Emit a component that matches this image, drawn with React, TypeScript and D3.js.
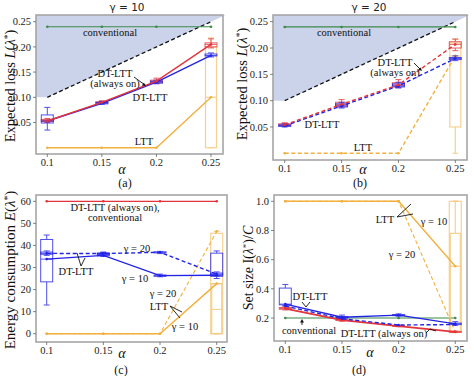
import React from "react";
import * as d3 from "d3";

// ---------- data ----------
const alphas = [0.1, 0.15, 0.2, 0.25];

// (a) expected loss, gamma = 10
const lossConvA = [0.24, 0.24, 0.24, 0.24];
const lossDtA = [0.053, 0.088, 0.13, 0.183];
const lossOnA = [0.053, 0.09, 0.132, 0.205];
const lossLttA = [0, 0, 0, 0.1];
// box stats: [lo, q1, med, q3, hi]
const boxDtA = [[0.035, 0.049, 0.053, 0.065, 0.08], [0.086, 0.087, 0.088, 0.09, 0.092], [0.127, 0.128, 0.13, 0.132, 0.134], [0.18, 0.182, 0.183, 0.186, 0.188]];
const boxOnA = [[0.05, 0.052, 0.054, 0.056, 0.058], [0.088, 0.089, 0.09, 0.091, 0.093], [0.127, 0.13, 0.132, 0.134, 0.138], [0.198, 0.2, 0.205, 0.208, 0.216]];
const boxLttA = [[0, 0, 0.1, 0.2, 0.218]];

// (b) expected loss, gamma = 20
const lossConvB = [0.24, 0.24, 0.24, 0.24];
const lossDtB = [0.052, 0.09, 0.128, 0.18];
const lossOnB = [0.054, 0.093, 0.13, 0.207];
const lossLttB = [0, 0, 0, 0.185];
const boxDtB = [[0.05, 0.051, 0.052, 0.054, 0.056], [0.086, 0.088, 0.09, 0.094, 0.097], [0.124, 0.126, 0.128, 0.132, 0.135], [0.176, 0.178, 0.18, 0.182, 0.185]];
const boxOnB = [[0.052, 0.053, 0.054, 0.056, 0.058], [0.088, 0.09, 0.093, 0.097, 0.102], [0.125, 0.128, 0.13, 0.134, 0.14], [0.195, 0.2, 0.207, 0.212, 0.217]];
const boxLttB = [[0, 0.05, 0.185, 0.21, 0.217]];

// (c) energy consumption
const energyOn = [60, 60, 60, 60];
const energyDt10 = [33.8, 35.5, 26.3, 26.5];
const energyDt20 = [36.4, 36.3, 36.9, 27];
const energyLtt10 = [0, 0, 0, 22.7];
const energyLtt20 = [0, 0, 0, 46.4];
const boxEnDt10 = [[13, 23.5, 33.8, 42.7, 44.7], [35, 35.3, 35.5, 36.3, 36.8], [25.8, 26, 26.3, 26.6, 27], [25, 26, 26.5, 36.5, 37.5]];
const boxEnDt20 = [[35.5, 36, 36.4, 37, 37.5], [35.5, 35.9, 36.3, 36.6, 37], [36.3, 36.6, 36.9, 37.1, 37.3], [26.2, 26.6, 27, 27.5, 28]];
const boxEnLtt10 = [[0, 0, 11, 22.7, 22.7]];
const boxEnLtt20 = [[0, 0, 22.7, 45.5, 46.4]];

// (d) set size
const sizeConv = [0.2, 0.2, 0.2, 0.2];
const sizeDt10 = [0.295, 0.205, 0.22, 0.16];
const sizeDt20 = [0.282, 0.195, 0.152, 0.155];
const sizeOn = [0.265, 0.185, 0.145, 0.105];
const sizeLtt10 = [1.0, 1.0, 1.0, 0.555];
const sizeLtt20 = [1.0, 1.0, 1.0, 0.105];
const boxSzDt10 = [[0.285, 0.29, 0.295, 0.405, 0.43], [0.195, 0.2, 0.205, 0.21, 0.22], [0.212, 0.216, 0.22, 0.224, 0.228], [0.15, 0.155, 0.16, 0.165, 0.175]];
const boxSzOn = [[0.255, 0.26, 0.265, 0.272, 0.28], [0.178, 0.182, 0.185, 0.19, 0.195], [0.14, 0.142, 0.145, 0.148, 0.152], [0.1, 0.102, 0.105, 0.108, 0.11]];
const boxSzLtt10 = [[0.105, 0.105, 0.555, 1.0, 1.0]];
const boxSzLtt20 = [[0.105, 0.105, 0.105, 0.78, 1.0]];

const xTicks = [0.1, 0.15, 0.2, 0.25];
const xTickLabels = ["0.1", "0.15", "0.2", "0.25"];
const lossTicks = [0.05, 0.1, 0.15, 0.2, 0.25];
const energyTicks = [0, 10, 20, 30, 40, 50, 60];
const sizeTicks = [0.2, 0.4, 0.6, 0.8, 1.0];

// ---------- style ----------
const BLUE = "#2323e6";
const RED = "#e3343c";
const ORANGE = "#f2b13f";
const ORANGE_BOX = "#f5c878";
const GREEN = "#3b8a48";
const SHADE = "#cad3e9";
const FRAME = "#a6a6a6";
const SERIF = "Liberation Serif";
const SANS = "DejaVu Sans";

type Sc = d3.ScaleLinear<number, number>;

function Line({ x, y, vals, color, dash, width = 1.4, marker = true }: { x: Sc; y: Sc; vals: number[]; color: string; dash?: string; width?: number; marker?: boolean }) {
  const gen = d3.line<number>().x((_, i) => x(alphas[i])).y((v) => y(v));
  return (
    <g>
      <path d={gen(vals) || ""} fill="none" stroke={color} strokeWidth={width} strokeDasharray={dash} />
      {marker && vals.map((v, i) => <circle key={i} cx={x(alphas[i])} cy={y(v)} r={1.3} fill={color} />)}
    </g>
  );
}

function Boxes({ x, y, boxes, at, color, w = 12, opacity = 0.8, sw = 1 }: { x: Sc; y: Sc; boxes: number[][]; at: number[]; color: string; w?: number; opacity?: number; sw?: number }) {
  return (
    <g stroke={color} strokeWidth={sw} fill="none" opacity={opacity}>
      {boxes.map((b, i) => {
        const cx = x(at[i]);
        const [lo, q1, med, q3, hi] = b;
        return (
          <g key={i}>
            <line x1={cx} x2={cx} y1={y(lo)} y2={y(q1)} />
            <line x1={cx} x2={cx} y1={y(q3)} y2={y(hi)} />
            <line x1={cx - w / 4} x2={cx + w / 4} y1={y(lo)} y2={y(lo)} />
            <line x1={cx - w / 4} x2={cx + w / 4} y1={y(hi)} y2={y(hi)} />
            <rect x={cx - w / 2} y={y(q3)} width={w} height={Math.max(0.5, y(q1) - y(q3))} />
            <line x1={cx - w / 2} x2={cx + w / 2} y1={y(med)} y2={y(med)} />
          </g>
        );
      })}
    </g>
  );
}

function Axes({ x, y, frame, yTicks, yFmt }: { x: Sc; y: Sc; frame: number[]; yTicks: number[]; yFmt: (v: number) => string }) {
  const [l, t, r, b] = frame;
  return (
    <g>
      <rect x={l} y={t} width={r - l} height={b - t} fill="none" stroke={FRAME} strokeWidth={1.6} />
      {yTicks.map((v) => (
        <g key={v}>
          <line x1={l - 3} x2={l} y1={y(v)} y2={y(v)} stroke="#666" strokeWidth={0.8} />
          <text x={l - 5} y={y(v)} dy="0.35em" textAnchor="end" fontFamily={SERIF} fontSize={10.5} fill="#222">{yFmt(v)}</text>
        </g>
      ))}
      {xTicks.map((v, i) => (
        <g key={v}>
          <line x1={x(v)} x2={x(v)} y1={b} y2={b + 3} stroke="#666" strokeWidth={0.8} />
          <text x={x(v)} y={b + 12} textAnchor="middle" fontFamily={SERIF} fontSize={10.5} fill="#222">{xTickLabels[i]}</text>
        </g>
      ))}
    </g>
  );
}

const T = ({ x, y, children, size = 10.5, anchor = "middle" }: any) => (
  <text x={x} y={y} textAnchor={anchor} fontFamily={SERIF} fontSize={size} fill="#111">{children}</text>
);

function YLabel({ x, y, main, fn, size = 14.5 }: { x: number; y: number; main: string; fn: string; size?: number }) {
  return (
    <text transform={`translate(${x},${y}) rotate(-90)`} textAnchor="middle" fontFamily={SERIF} fontSize={size} fill="#111">
      {main}<tspan fontStyle="italic">{fn}</tspan>(<tspan fontStyle="italic">λ</tspan><tspan dy="-4" fontSize={size * 0.65}>*</tspan><tspan dy="4">)</tspan>
    </text>
  );
}

const AlphaLabel = ({ x, y }: { x: number; y: number }) => (
  <text x={x} y={y} textAnchor="middle" fontFamily={SERIF} fontStyle="italic" fontSize={14} fill="#111">α</text>
);

function Shade({ x, y, left, top }: { x: Sc; y: Sc; left: number; top: number }) {
  const pts: [number, number][] = [
    [left, y(0.1)], [x(0.1), y(0.1)], [x(0.25), y(0.25)], [x(0.263), y(0.263)], [x(0.263), top], [left, top],
  ];
  const clip = pts.map((p) => p.join(",")).join(" ");
  return (
    <g>
      <polygon points={clip} fill={SHADE} />
      <line x1={x(0.1)} y1={y(0.1)} x2={x(0.25)} y2={y(0.25)} stroke="#111" strokeWidth={1.3} strokeDasharray="4,2.5" />
    </g>
  );
}

export default function App() {
  // panel a
  const xa = d3.scaleLinear().domain([0.1, 0.25]).range([47.3, 211]);
  const ya = d3.scaleLinear().domain([0, 0.25]).range([147.7, 21.7]);
  const fa = [36, 15, 223, 154];
  // panel b
  const xb = d3.scaleLinear().domain([0.1, 0.25]).range([284.7, 455.3]);
  const yb = d3.scaleLinear().domain([0, 0.25]).range([153.3, 21.7]);
  const fb = [273, 15, 467, 160];
  // panel c
  const xc = d3.scaleLinear().domain([0.1, 0.25]).range([46.7, 216.7]);
  const yc = d3.scaleLinear().domain([0, 60]).range([333.7, 201.3]);
  const fc = [36, 195, 227, 342];
  // panel d
  const xd = d3.scaleLinear().domain([0.1, 0.25]).range([285.3, 455.3]);
  const yd = d3.scaleLinear().domain([0.2, 1.0]).range([318, 201.3]);
  const fd = [274, 195, 467, 341];

  const f2 = (v: number) => v.toFixed(2);
  const f0 = (v: number) => String(v);
  const f1 = (v: number) => v.toFixed(1);
  const last = [0.25];
  const d = "4,2.5";

  return (
    <svg width={474} height={376} style={{ position: "absolute", left: 0, top: 0, background: "#fff" }}>
      <rect width={474} height={376} fill="#fff" />
      {/* ---------- (a) ---------- */}
      <Shade x={xa} y={ya} left={fa[0]} top={fa[1]} />
      <Line x={xa} y={ya} vals={lossConvA} color={GREEN} width={1.2} />
      <Boxes x={xa} y={ya} boxes={boxLttA} at={last} color={ORANGE_BOX} w={11} sw={1.2} />
      <Line x={xa} y={ya} vals={lossLttA} color={ORANGE} />
      <Boxes x={xa} y={ya} boxes={boxOnA} at={alphas} color={RED} w={12} />
      <Boxes x={xa} y={ya} boxes={boxDtA} at={alphas} color={BLUE} w={12} />
      <Line x={xa} y={ya} vals={lossDtA} color={BLUE} />
      <Line x={xa} y={ya} vals={lossOnA} color={RED} />
      <Axes x={xa} y={ya} frame={fa} yTicks={lossTicks} yFmt={f2} />
      <text x={127} y={11} textAnchor="middle" fontFamily={SANS} fontSize={10.5} fill="#222">γ = 10</text>
      <T x={110} y={36}>conventional</T>
      <T x={115} y={77}>DT-LTT</T>
      <T x={115} y={87}>(always on)</T>
      <line x1={134} y1={77} x2={145} y2={85} stroke="#111" strokeWidth={0.9} />
      <path d="M146,86 l-4.2,-0.6 l2.1,-2.6 z" fill="#111" />
      <T x={150} y={101}>DT-LTT</T>
      <T x={144} y={145}>LTT</T>
      <AlphaLabel x={122} y={174} />
      <T x={125} y={187} size={12}>(a)</T>
      <YLabel x={15} y={86} main="Expected loss " fn="L" />

      {/* ---------- (b) ---------- */}
      <Shade x={xb} y={yb} left={fb[0]} top={fb[1]} />
      <Line x={xb} y={yb} vals={lossConvB} color={GREEN} width={1.2} />
      <Boxes x={xb} y={yb} boxes={boxLttB} at={last} color={ORANGE_BOX} w={11} sw={1.2} />
      <Line x={xb} y={yb} vals={lossLttB} color={ORANGE} dash={d} />
      <Boxes x={xb} y={yb} boxes={boxOnB} at={alphas} color={RED} w={12} />
      <Boxes x={xb} y={yb} boxes={boxDtB} at={alphas} color={BLUE} w={12} />
      <Line x={xb} y={yb} vals={lossDtB} color={BLUE} dash={d} />
      <Line x={xb} y={yb} vals={lossOnB} color={RED} dash={d} />
      <Axes x={xb} y={yb} frame={fb} yTicks={lossTicks} yFmt={f2} />
      <text x={369} y={11} textAnchor="middle" fontFamily={SANS} fontSize={10.5} fill="#222">γ = 20</text>
      <T x={344} y={36}>conventional</T>
      <T x={395} y={66}>DT-LTT</T>
      <T x={395} y={76}>(always on)</T>
      <line x1={414} y1={63} x2={421} y2={70} stroke="#111" strokeWidth={0.9} />
      <path d="M422,71 l-3.8,-1.5 l2.6,-2 z" fill="#111" />
      <T x={322} y={128}>DT-LTT</T>
      <T x={363} y={151}>LTT</T>
      <AlphaLabel x={363} y={174} />
      <T x={360} y={187} size={12}>(b)</T>
      <YLabel x={247} y={84} main="Expected loss " fn="L" />

      {/* ---------- (c) ---------- */}
      <Line x={xc} y={yc} vals={energyOn} color={RED} width={1.2} />
      <Boxes x={xc} y={yc} boxes={boxEnLtt20} at={last} color={ORANGE_BOX} w={12} sw={1.2} />
      <Boxes x={xc} y={yc} boxes={boxEnLtt10} at={last} color={ORANGE_BOX} w={10} sw={1.2} />
      <Line x={xc} y={yc} vals={energyLtt10} color={ORANGE} />
      <Line x={xc} y={yc} vals={energyLtt20} color={ORANGE} dash={d} width={1.1} />
      <Boxes x={xc} y={yc} boxes={boxEnDt10} at={alphas} color={BLUE} w={12} />
      <Boxes x={xc} y={yc} boxes={boxEnDt20} at={alphas} color={BLUE} w={12} />
      <Line x={xc} y={yc} vals={energyDt10} color={BLUE} />
      <Line x={xc} y={yc} vals={energyDt20} color={BLUE} dash={d} />
      <Axes x={xc} y={yc} frame={fc} yTicks={energyTicks} yFmt={f0} />
      <T x={115} y={211}>DT-LTT (always on),</T>
      <T x={115} y={221}>conventional</T>
      <T x={76} y={275}>DT-LTT</T>
      <path d="M77,253 L81,266 L85,258" fill="none" stroke="#111" strokeWidth={0.9} />
      <T x={137} y={252}>γ = 20</T>
      <T x={135} y={282}>γ = 10</T>
      <T x={163} y={297}>γ = 20</T>
      <T x={159} y={310}>LTT</T>
      <path d="M170,306 L182,312 M170,306 L180,318" fill="none" stroke="#111" strokeWidth={0.9} />
      <T x={185} y={330}>γ = 10</T>
      <AlphaLabel x={122} y={358} />
      <T x={121} y={374} size={12}>(c)</T>
      <YLabel x={15} y={270} main="Energy consumption " fn="E" size={15} />

      {/* ---------- (d) ---------- */}
      <Line x={xd} y={yd} vals={sizeConv} color={GREEN} width={1.2} />
      <Boxes x={xd} y={yd} boxes={boxSzLtt10} at={last} color={ORANGE_BOX} w={12} sw={1.2} />
      <Boxes x={xd} y={yd} boxes={boxSzLtt20} at={last} color={ORANGE_BOX} w={10} sw={1.2} />
      <Line x={xd} y={yd} vals={sizeLtt10} color={ORANGE} />
      <Line x={xd} y={yd} vals={sizeLtt20} color={ORANGE} dash={d} width={1.1} />
      <Boxes x={xd} y={yd} boxes={boxSzOn} at={alphas} color={RED} w={12} />
      <Boxes x={xd} y={yd} boxes={boxSzDt10} at={alphas} color={BLUE} w={12} />
      <Line x={xd} y={yd} vals={sizeOn} color={RED} width={1.8} />
      <Line x={xd} y={yd} vals={sizeDt20} color={BLUE} dash={d} />
      <Line x={xd} y={yd} vals={sizeDt10} color={BLUE} />
      <Axes x={xd} y={yd} frame={fd} yTicks={sizeTicks} yFmt={f1} />
      <T x={385} y={223}>LTT</T>
      <path d="M397,217 L411,204 M397,217 L413,214" fill="none" stroke="#111" strokeWidth={0.9} />
      <T x={434} y={225}>γ = 10</T>
      <T x={402} y={258}>γ = 20</T>
      <T x={310} y={300}>DT-LTT</T>
      <path d="M302,302 L306,307 L310,302" fill="none" stroke="#111" strokeWidth={0.9} />
      <T x={309} y={334}>conventional</T>
      <line x1={302} y1={325} x2={302} y2={321} stroke="#111" strokeWidth={0.9} />
      <path d="M302,319 l-2,3.5 l4,0 z" fill="#111" />
      <T x={384} y={337}>DT-LTT (always on)</T>
      <path d="M426,333 L430,329 L436,331" fill="none" stroke="#111" strokeWidth={0.9} />
      <AlphaLabel x={370} y={357} />
      <text x={359} y={374} textAnchor="middle" fontFamily={SERIF} fontSize={12} fill="#111">(d)</text>
      <text transform="translate(253,268) rotate(-90)" textAnchor="middle" fontFamily={SERIF} fontSize={14} fill="#111">
        Set size I(<tspan fontStyle="italic">λ</tspan><tspan dy="-4" fontSize={9}>*</tspan><tspan dy="4">)/</tspan><tspan fontStyle="italic">C</tspan>
      </text>
    </svg>
  );
}
